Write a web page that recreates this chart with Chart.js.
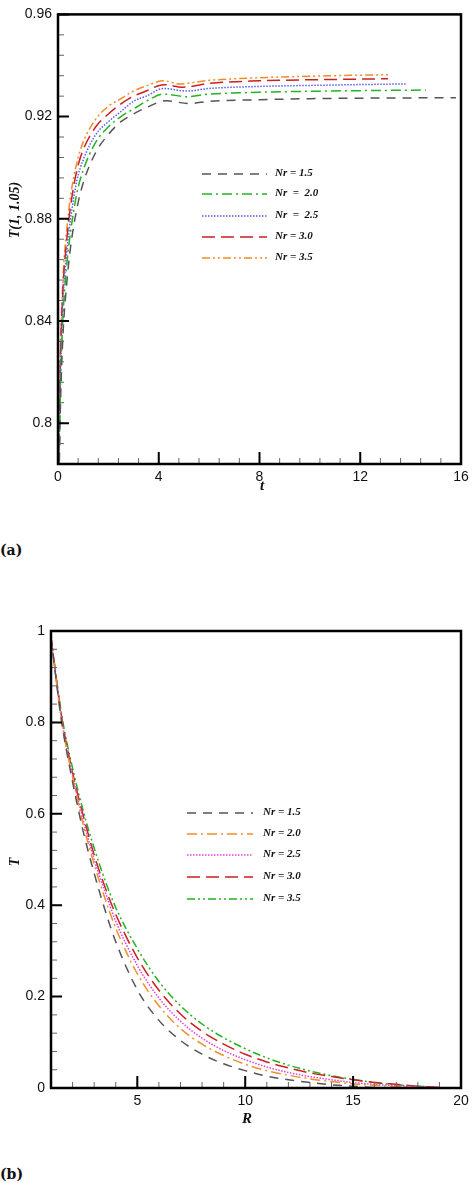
<!DOCTYPE html>
<html>
<head>
<meta charset="utf-8">
<script src="https://cdn.jsdelivr.net/npm/chart.js@4.4.1/dist/chart.umd.min.js"></script>
<style>
  body { margin: 0; width: 474px; height: 1183px; background: #fff; position: relative; overflow: hidden; }
  canvas { position: absolute; left: 0; }
  #chartA { top: 0; }
  #chartB { top: 600px; }
  .panel { position: absolute; left: 0; font: bold 14px "DejaVu Serif", serif; color: #111; }
</style>
</head>
<body>
<canvas id="chartA" width="474" height="500"></canvas>
<div class="panel" style="top:542px">(a)</div>
<canvas id="chartB" width="474" height="540"></canvas>
<div class="panel" style="top:1166px">(b)</div>

<script>
// ---- (a) T(1, 1.05) against t ----
const labelsA = ["Nr = 1.5", "Nr  =  2.0", "Nr  =  2.5", "Nr = 3.0", "Nr = 3.5"];
const tNr15 = [0, 0.05, 0.1, 0.2, 0.35, 0.5, 0.75, 1, 1.5, 2, 2.5, 3, 3.5, 4.3, 5.2, 6, 8, 10, 12, 15.8];
const TNr15 = [0.76, 0.783, 0.808, 0.835, 0.855, 0.869, 0.884, 0.894, 0.906, 0.913, 0.918, 0.921, 0.9235, 0.9262, 0.9251, 0.926, 0.9266, 0.927, 0.9272, 0.9274];
const tNr20 = [0, 0.05, 0.1, 0.2, 0.35, 0.5, 0.75, 1, 1.5, 2, 2.5, 3, 3.5, 4.2, 5.1, 6, 8, 10, 14.6];
const TNr20 = [0.76, 0.788, 0.815, 0.842, 0.862, 0.875, 0.89, 0.899, 0.91, 0.916, 0.92, 0.923, 0.926, 0.9288, 0.9278, 0.9288, 0.9295, 0.9299, 0.9304];
const tNr25 = [0, 0.05, 0.1, 0.2, 0.35, 0.5, 0.75, 1, 1.5, 2, 2.5, 3, 3.5, 4.2, 5.1, 6, 8, 10, 13.8];
const TNr25 = [0.76, 0.793, 0.821, 0.848, 0.867, 0.88, 0.895, 0.903, 0.913, 0.918, 0.922, 0.926, 0.928, 0.931, 0.93, 0.931, 0.9318, 0.9322, 0.9328];
const tNr30 = [0, 0.05, 0.1, 0.2, 0.35, 0.5, 0.75, 1, 1.5, 2, 2.5, 3, 3.5, 4.2, 4.95, 6, 8, 10, 13.1];
const TNr30 = [0.76, 0.797, 0.826, 0.853, 0.872, 0.885, 0.899, 0.907, 0.916, 0.921, 0.925, 0.928, 0.93, 0.9325, 0.9315, 0.933, 0.934, 0.9344, 0.9348];
const tNr35 = [0, 0.05, 0.1, 0.2, 0.35, 0.5, 0.75, 1, 1.5, 2, 2.5, 3, 3.5, 4.2, 4.8, 6, 8, 10, 13.1];
const TNr35 = [0.76, 0.8, 0.83, 0.857, 0.876, 0.889, 0.902, 0.91, 0.919, 0.924, 0.927, 0.93, 0.932, 0.934, 0.9328, 0.9342, 0.9352, 0.9358, 0.9364];
const xTicksA = [0, 4, 8, 12, 16];
const yTicksA = [0.8, 0.84, 0.88, 0.92, 0.96];

// ---- (b) T against R ----
const labelsB = ["Nr = 1.5", "Nr = 2.0", "Nr = 2.5", "Nr = 3.0", "Nr = 3.5"];
const rValues = [1, 1.5, 2, 2.5, 3, 3.5, 4, 5, 6, 7, 8, 9, 10, 11, 12, 13, 14, 15, 16, 17, 18, 19];
const TbNr15 = [0.985, 0.8, 0.67, 0.56, 0.47, 0.39, 0.32, 0.215, 0.148, 0.104, 0.074, 0.053, 0.038, 0.026, 0.018, 0.012, 0.007, 0.004, 0.001];
const TbNr20 = [0.985, 0.8, 0.68, 0.575, 0.49, 0.415, 0.35, 0.25, 0.18, 0.13, 0.096, 0.071, 0.052, 0.038, 0.028, 0.02, 0.014, 0.009, 0.006, 0.003, 0.001];
const TbNr25 = [0.985, 0.805, 0.685, 0.585, 0.5, 0.43, 0.365, 0.268, 0.197, 0.146, 0.109, 0.082, 0.062, 0.046, 0.034, 0.025, 0.018, 0.012, 0.008, 0.005, 0.003, 0.001];
const TbNr30 = [0.985, 0.81, 0.69, 0.595, 0.51, 0.44, 0.38, 0.285, 0.214, 0.162, 0.124, 0.096, 0.074, 0.057, 0.044, 0.033, 0.025, 0.018, 0.012, 0.008, 0.004, 0.001];
const TbNr35 = [0.985, 0.815, 0.7, 0.605, 0.525, 0.455, 0.395, 0.305, 0.233, 0.18, 0.14, 0.11, 0.086, 0.066, 0.05, 0.037, 0.027, 0.019, 0.012, 0.007, 0.004, 0.001];
const xTicksB = [5, 10, 15, 20];
const yTicksB = [0, 0.2, 0.4, 0.6, 0.8, 1];

const zip = (xs, ys) => ys.map((v, i) => ({ x: xs[i], y: v }));

// line styles
const DASH = [9, 7];
const DASH_DOT = [10, 4, 2, 4];
const DOTS = [1.5, 1.5];
const LONG_DASH = [13, 6];
const DASH_DOT_DOT = [8, 3, 2, 3, 2, 3];

function line(label, data, color, dash) {
  return {
    label, data,
    borderColor: color,
    borderDash: dash,
    borderWidth: 1.5,
    pointRadius: 0,
    fill: false,
    cubicInterpolationMode: "monotone"
  };
}

// inward ticks, box frame, legend and axis titles, drawn the Tecplot way
const tecplotBox = {
  id: "tecplotBox",
  afterDatasetsDraw(chart, args, opts) {
    const { ctx, chartArea: a, scales: { x, y } } = chart;
    ctx.save();

    const minorTicks = (scale, step, draw) => {
      for (let k = Math.ceil(scale.min / step - 1e-6); k * step <= scale.max + 1e-9; k++) {
        draw(scale.getPixelForValue(k * step));
      }
    };
    ctx.strokeStyle = "#666";
    ctx.lineWidth = 1;
    ctx.beginPath();
    minorTicks(x, opts.xMinor, px => { ctx.moveTo(px, a.bottom); ctx.lineTo(px, a.bottom - 6); });
    minorTicks(y, opts.yMinor, py => { ctx.moveTo(a.left, py); ctx.lineTo(a.left + 6, py); });
    ctx.stroke();

    ctx.strokeStyle = "#000";
    ctx.lineWidth = 2;
    ctx.beginPath();
    x.ticks.forEach(t => { const px = x.getPixelForValue(t.value); ctx.moveTo(px, a.bottom); ctx.lineTo(px, a.bottom - 12); });
    y.ticks.forEach(t => { const py = y.getPixelForValue(t.value); ctx.moveTo(a.left, py); ctx.lineTo(a.left + 11, py); });
    ctx.stroke();

    ctx.lineWidth = 2.5;
    ctx.strokeRect(a.left, a.top, a.right - a.left, a.bottom - a.top);

    // legend
    const lg = opts.legend;
    ctx.font = "italic bold 11px 'Liberation Serif', serif";
    ctx.textBaseline = "middle";
    ctx.fillStyle = "#111";
    chart.data.datasets.forEach((ds, i) => {
      const ly = lg.y[i];
      ctx.strokeStyle = ds.borderColor;
      ctx.lineWidth = 1.5;
      ctx.setLineDash(ds.borderDash);
      ctx.beginPath();
      ctx.moveTo(lg.x0, ly);
      ctx.lineTo(lg.x1, ly);
      ctx.stroke();
      ctx.setLineDash([]);
      ctx.fillText(ds.label, lg.textX, ly - 1);
    });

    // axis titles
    ctx.font = "italic bold 15px 'Liberation Serif', serif";
    ctx.textAlign = "center";
    ctx.fillText(opts.xTitle.text, opts.xTitle.x, opts.xTitle.y);
    ctx.translate(opts.yTitle.x, opts.yTitle.y);
    ctx.rotate(-Math.PI / 2);
    ctx.font = "italic bold 14px 'Liberation Serif', serif";
    ctx.fillText(opts.yTitle.text, 0, 0);
    ctx.restore();
  }
};

function axes(xMin, xMax, xTicks, yMin, yMax, yTicks, yWidth, xHeight) {
  const tickFont = { family: "'Liberation Sans', Arial, sans-serif", size: 14 };
  return {
    x: {
      type: "linear", min: xMin, max: xMax,
      grid: { display: false, drawTicks: false },
      border: { display: false },
      afterBuildTicks: s => { s.ticks = xTicks.map(v => ({ value: v })); },
      afterFit: s => { s.height = xHeight; },
      ticks: { color: "#111", font: tickFont, padding: 5, maxRotation: 0, callback: v => String(v) }
    },
    y: {
      type: "linear", min: yMin, max: yMax,
      grid: { display: false, drawTicks: false },
      border: { display: false },
      afterBuildTicks: s => { s.ticks = yTicks.map(v => ({ value: v })); },
      afterFit: s => { s.width = yWidth; },
      ticks: { color: "#111", font: tickFont, padding: 6, callback: v => String(+v.toFixed(2)) }
    }
  };
}

Chart.defaults.animation = false;

new Chart(document.getElementById("chartA"), {
  type: "line",
  data: {
    datasets: [
      line(labelsA[0], zip(tNr15, TNr15), "#555555", DASH),
      line(labelsA[1], zip(tNr20, TNr20), "#22b422", DASH_DOT),
      line(labelsA[2], zip(tNr25, TNr25), "#5a5af0", DOTS),
      line(labelsA[3], zip(tNr30, TNr30), "#cc1f1f", LONG_DASH),
      line(labelsA[4], zip(tNr35, TNr35), "#f28c28", DASH_DOT_DOT)
    ]
  },
  options: {
    responsive: false,
    layout: { padding: { top: 12, right: 13, left: 0, bottom: 0 } },
    scales: axes(0, 16, xTicksA, 0.784, 0.96, yTicksA, 58, 36),
    plugins: {
      legend: { display: false },
      tooltip: { enabled: false },
      tecplotBox: {
        xMinor: 0.8, yMinor: 0.008,
        legend: { x0: 202, x1: 267, textX: 275, y: [174, 194, 216, 237, 258] },
        xTitle: { text: "t", x: 262, y: 486 },
        yTitle: { text: "T(1, 1.05)", x: 15, y: 210 }
      }
    }
  },
  plugins: [tecplotBox]
});

new Chart(document.getElementById("chartB"), {
  type: "line",
  data: {
    datasets: [
      line(labelsB[0], zip(rValues, TbNr15), "#555555", DASH),
      line(labelsB[1], zip(rValues, TbNr20), "#f0902a", DASH_DOT),
      line(labelsB[2], zip(rValues, TbNr25), "#e040e0", DOTS),
      line(labelsB[3], zip(rValues, TbNr30), "#cc1f1f", LONG_DASH),
      line(labelsB[4], zip(rValues, TbNr35), "#22b422", DASH_DOT_DOT)
    ]
  },
  options: {
    responsive: false,
    layout: { padding: { top: 31, right: 13, left: 0, bottom: 0 } },
    scales: axes(1, 20, xTicksB, 0, 1, yTicksB, 51, 52),
    plugins: {
      legend: { display: false },
      tooltip: { enabled: false },
      tecplotBox: {
        xMinor: 1, yMinor: 0.04,
        legend: { x0: 187, x1: 253, textX: 263, y: [213, 234, 255, 277, 299] },
        xTitle: { text: "R", x: 247, y: 519 },
        yTitle: { text: "T", x: 15, y: 262 }
      }
    }
  },
  plugins: [tecplotBox]
});
</script>
</body>
</html>
